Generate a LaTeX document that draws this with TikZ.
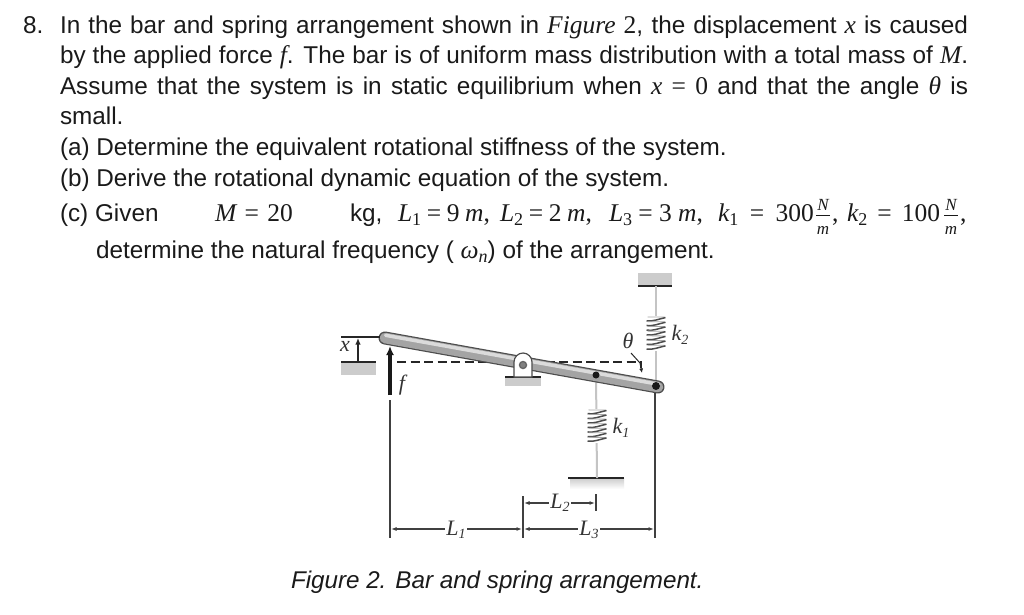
\documentclass[tikz,border=0pt]{standalone}
\usepackage{fontspec}
\setmainfont{Liberation Sans}
\newfontfamily\figfont{Liberation Serif}
\usetikzlibrary{arrows.meta,calc,shadings}
\definecolor{txt}{HTML}{1A1A1A}
\definecolor{gnd}{HTML}{CCCCCC}
\definecolor{barfill}{HTML}{A4A4A4}
\definecolor{postc}{HTML}{C4C4C4}
\newcommand{\mi}[1]{{\figfont\itshape\fontsize{25.5}{26}\selectfont #1}}
\newcommand{\mr}[1]{{\figfont\fontsize{25.5}{26}\selectfont #1}}
\newcommand{\msb}[1]{\raisebox{-4pt}{\figfont\fontsize{18}{18}\selectfont #1}}
\newcommand{\msbi}[1]{\raisebox{-4pt}{\figfont\itshape\fontsize{18}{18}\selectfont #1}}
\newcommand{\fsb}[1]{\raisebox{-3.5pt}{\figfont\itshape\fontsize{14}{14}\selectfont #1}}
\newcommand{\jl}[2]{\makebox[#1][s]{#2}}
\newcommand{\coilat}[3]{\foreach \ci in {0,...,6}{%
  \pgfmathsetmacro{\cy}{#2+(#3-#2)*(\ci+0.5)/7}%
  \draw[coilback] (#1-8.5,\cy-2.4) -- (#1+8.5,\cy+2.4-4.7);%
  \draw[coilfront] (#1-9.5,\cy+1.4) .. controls (#1-3,\cy+2.4) and (#1+3,\cy-0.5) .. (#1+9.5,\cy-1.8);}}
\tikzset{
  tl/.style={anchor=base west,inner sep=0pt,outer sep=0pt,text=txt,font=\fontsize{24.3}{26}\selectfont},
  fracl/.style={inner sep=0pt,text=txt,font=\figfont\itshape\fontsize{17}{17}\selectfont},
  figl/.style={inner sep=0pt,text=black!80,font=\figfont\itshape\fontsize{22}{22}\selectfont},
  dim/.style={draw=black!75,line width=1.2pt},
  post/.style={draw=postc,line width=2pt},
  coilback/.style={draw=gray!70,line width=0.8pt},
  coilfront/.style={draw=black!70,line width=1.5pt},
  grnd/.style={fill=gnd,draw=none},
  gline/.style={draw=black!85,line width=1.3pt},
  darr/.style={dim,-{Latex[length=5.5pt,width=4pt]}},
}
\begin{document}
\begin{tikzpicture}[x=1pt,y=-1pt]
\useasboundingbox (0,0) rectangle (1024,614);
\fill[white] (0,0) rectangle (1024,614);
% text
\node[tl] (t0) at (23,33) {8.};
\node[tl] (t1) at (60,33) {\jl{908pt}{In the bar and spring arrangement shown in \mi{Figure} \mr{2}, the displacement \mi{x} is caused}};
\node[tl] (t2) at (60,63) {\jl{908pt}{by the applied force \mi{f}. The bar is of uniform mass distribution with a total mass of \mi{M}.}};
\node[tl] (t3) at (60,94) {\jl{908pt}{Assume that the system is in static equilibrium when \mi{x} \mr{=} \mr{0} and that the angle \mi{θ} is}};
\node[tl] (t4) at (60,124) {small.};
\node[tl] (t5) at (60,155) {(a) Determine the equivalent rotational stiffness of the system.};
\node[tl] (t6) at (60,186) {(b) Derive the rotational dynamic equation of the system.};
\node[tl] (t7a) at (60,221) {(c) Given};
\node[tl] (t7b) at (215,221) {\jl{78pt}{\mi{M} \mr{=} \mr{20}}};
\node[tl] (t7c) at (350,221) {kg,};
\node[tl] (t7d) at (398,221) {\jl{92pt}{\mi{L}\msb{1} \mr{=} \mr{9} \mi{m}\mr{,}}};
\node[tl] (t7e) at (500,221) {\jl{92pt}{\mi{L}\msb{2} \mr{=} \mr{2} \mi{m}\mr{,}}};
\node[tl] (t7f) at (609,221) {\jl{94pt}{\mi{L}\msb{3} \mr{=} \mr{3} \mi{m}\mr{,}}};
\node[tl] (t7g) at (718,221) {\jl{96pt}{\mi{k}\msb{1} \mr{=} \mr{300}}};
\node[fracl] (n1) at (823,205) {N};
\node[fracl] (m1) at (823,230) {m};
\coordinate (r1a) at (816,215);
\coordinate (r1b) at (830,215);
\draw[line width=0.9pt,txt] (r1a) -- (r1b);
\node[tl] (c1) at (832,221) {\mr{,}};
\node[tl] (t7i) at (847,221) {\jl{93pt}{\mi{k}\msb{2} \mr{=} \mr{100}}};
\node[fracl] (n2) at (951,205) {N};
\node[fracl] (m2) at (951,230) {m};
\coordinate (r2a) at (944,215);
\coordinate (r2b) at (958,215);
\draw[line width=0.9pt,txt] (r2a) -- (r2b);
\node[tl] (c2) at (960,221) {\mr{,}};
\node[tl] (t8) at (96,258) {determine the natural frequency ( \mi{ω}\msbi{n}) of the arrangement.};
\node[tl,font=\itshape\fontsize{24.2}{26}\selectfont] (cap) at (291,588) {Figure 2. Bar and spring arrangement.};
% key points
\coordinate (barL) at (385,338);
\coordinate (barR) at (658,387);
\coordinate (piv) at (523,365);
\coordinate (k1a) at (596,375);
\coordinate (k1g) at (597,478);
\coordinate (k2g) at (656,286);
\coordinate (k2a) at (656,387);
% ground k2
\fill[grnd] (638,273) rectangle (672,286);
\draw[gline] (638,286) -- (672,286);
% ground k1
\shade[top color=gnd,bottom color=white] (570,478) rectangle (624,489);
\draw[gline] (568,478) -- (624,478);
% springs
\draw[post] (k2g) -- (k2a);
\draw[post] (k1a) -- (k1g);
\fill[white] (646,316) rectangle (666,351);
\fill[white] (587,409) rectangle (607,443);
\coilat{656}{317}{350}
\coilat{597}{410}{442}
% dashed reference
\draw[black!85,line width=1.3pt,dash pattern=on 9pt off 4.5pt] (397,362) -- (641,362) -- (641,368);
% bar
\draw[line cap=round,line width=13pt,draw=black!70] (barL) -- (barR);
\draw[line cap=round,line width=10.6pt,draw=barfill] (barL) -- (barR);
\draw[line cap=round,line width=3.5pt,draw=gnd!70] ($(barL)+(0.6,-2.7)$) -- ($(barR)+(0.6,-2.7)$);
% pivot
\fill[grnd] (505,377) rectangle (541,386);
\draw[gline] (505,377) -- (541,377);
\draw[fill=white,draw=black!70,line width=1.2pt] (514,377) -- (514,362) arc[start angle=180,end angle=360,radius=9] -- (532,377) -- cycle;
\node[circle,draw=black!60,fill=gray,line width=1.4pt,minimum size=7pt,inner sep=0pt] (pivn) at (piv) {};
% joints
\node[circle,fill=black!90,minimum size=7pt,inner sep=0pt] (k1j) at (k1a) {};
\node[circle,fill=black!90,minimum size=8pt,inner sep=0pt] (k2j) at (656,386) {};
% x indicator
\fill[grnd] (341,362) rectangle (376,375);
\draw[gline] (341,362) -- (376,362);
\draw[gline] (341,337) -- (380,337);
\draw[black!85,line width=1.3pt,-{Latex[length=6.5pt,width=5.5pt]}] (358,362) -- (358,338);
\node[figl] (xl) at (345,346) {x};
% force
\draw[black!90,line width=3.4pt,-{Latex[length=9pt,width=8pt]}] (390,395) -- (390,346);
\node[figl] (fl) at (402,385) {f};
% theta
\node[figl] (th) at (628,341) {θ};
\coordinate (thm) at (640,363);
\draw[black!85,line width=1pt] (631,353) -- (thm);
\draw[black!85,line width=1pt,-{Latex[length=4.5pt,width=4pt]}] (thm) -- (642,373);
% spring labels
\node[figl] (k2l) at (680,335) {k\fsb{2}};
\node[figl] (k1l) at (621,428) {k\fsb{1}};
% dimension verticals
\coordinate (dA) at (390,538);
\coordinate (dAt) at (390,400);
\coordinate (dB) at (523,538);
\coordinate (dBt) at (523,496);
\coordinate (dC) at (655,538);
\coordinate (dCt) at (655,393);
\coordinate (dD) at (596,511);
\coordinate (dDt) at (596,494);
\draw[dim] (dAt) -- (dA);
\draw[dim] (dBt) -- (dB);
\draw[dim] (dCt) -- (dC);
\draw[dim] (dDt) -- (dD);
% dimensions
\node[figl,fill=white,inner xsep=1.5pt] (L1) at (456,530) {L\fsb{1}};
\node[figl,fill=white,inner xsep=1.5pt] (L2) at (560,503) {L\fsb{2}};
\node[figl,inner xsep=1.5pt] (L3) at (589,530) {L\fsb{3}};
\draw[darr] (L1.west |- 0,529) -- (391,529);
\draw[darr] (L1.east |- 0,529) -- (522,529);
\draw[darr] (L3.west |- 0,529) -- (524,529);
\draw[darr] (L3.east |- 0,529) -- (654,529);
\draw[darr] (L2.west |- 0,503) -- (524,503);
\draw[darr] (L2.east |- 0,503) -- (595,503);
\end{tikzpicture}
\end{document}
